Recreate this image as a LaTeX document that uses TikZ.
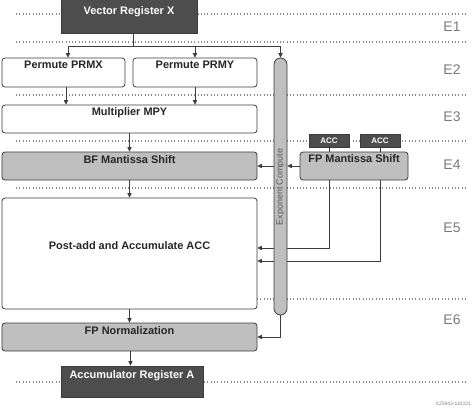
\documentclass[tikz,border=0pt]{standalone}
\usepackage{fontspec}
\setmainfont{Liberation Sans}
\usetikzlibrary{arrows.meta,calc}
\definecolor{linec}{HTML}{3C3C3C}
\definecolor{darkf}{HTML}{4D4D4D}
\definecolor{grayf}{HTML}{BFBFBF}
\definecolor{dotc}{HTML}{8A8A8A}
\definecolor{elab}{HTML}{7A7A7A}
\begin{document}
\begin{tikzpicture}[x=1bp,y=-1bp,
  box/.style={draw=linec, rounded corners=3bp, line width=0.8bp, fill=white, inner sep=0pt},
  graybox/.style={box, fill=grayf},
  darkbox/.style={draw=linec, line width=0.8bp, fill=darkf, inner sep=0pt},
  lbl/.style={font=\fontsize{11}{13}\selectfont\bfseries, text=black!85, inner sep=0pt},
  dlbl/.style={font=\fontsize{11}{13}\selectfont\bfseries, text=white, inner sep=0pt},
  elbl/.style={font=\fontsize{14}{16}\selectfont, text=elab, inner sep=0pt},
  dotline/.style={draw=dotc, line width=1.1bp, dash pattern=on 0.9bp off 2.4bp},
  conn/.style={draw=linec, line width=0.8bp},
  arr/.style={conn, -{Triangle[length=4.5bp,width=4.2bp]}}
]
\useasboundingbox (0,0) rectangle (474,411);
% stage separators
\foreach \yy in {14,42,95,141,188,299,382}
  \draw[dotline] (16,\yy) -- (467,\yy);
% stage labels
\node[elbl] (e1) at (452,27) {E1};
\node[elbl] (e2) at (452,70) {E2};
\node[elbl] (e3) at (452,117) {E3};
\node[elbl] (e4) at (452,165) {E4};
\node[elbl] (e5) at (452,228) {E5};
\node[elbl] (e6) at (452,320) {E6};
% boxes
\node[darkbox, minimum width=136bp, minimum height=36bp] (vrx) at (129,15) {};
\node[dlbl] (vrxt) at (129,12) {Vector Register X};
\node[box, minimum width=123bp, minimum height=29bp] (prmx) at (63.5,72.5) {};
\node[lbl] (prmxt) at (63.5,65) {Permute PRMX};
\node[box, minimum width=124bp, minimum height=29bp] (prmy) at (195,72.5) {};
\node[lbl] (prmyt) at (195,65) {Permute PRMY};
\node[box, minimum width=255bp, minimum height=28bp] (mpy) at (129.5,119) {};
\node[lbl] (mpyt) at (129.5,113) {Multiplier MPY};
\node[graybox, minimum width=255bp, minimum height=28bp] (bf) at (129.5,166) {};
\node[lbl] (bft) at (129.5,160) {BF Mantissa Shift};
\node[graybox, minimum width=108bp, minimum height=28bp] (fpm) at (354,166) {};
\node[lbl] (fpmt) at (354,159) {FP Mantissa Shift};
\node[darkbox, minimum width=40bp, minimum height=13bp] (acc1) at (329,140.5) {};
\node[font=\fontsize{8}{9}\selectfont\bfseries, text=white, inner sep=0pt] (acc1t) at (329,140.5) {ACC};
\node[darkbox, minimum width=40bp, minimum height=13bp] (acc2) at (380,140.5) {};
\node[font=\fontsize{8}{9}\selectfont\bfseries, text=white, inner sep=0pt] (acc2t) at (380,140.5) {ACC};
\node[box, minimum width=255bp, minimum height=111bp] (post) at (129.5,253.5) {};
\node[lbl] (postt) at (129.5,246) {Post-add and Accumulate ACC};
\node[graybox, minimum width=255bp, minimum height=28bp] (fpn) at (129.5,337) {};
\node[lbl] (fpnt) at (129.5,331) {FP Normalization};
\node[darkbox, minimum width=142bp, minimum height=31bp] (acca) at (132,381.5) {};
\node[dlbl] (accat) at (132,376) {Accumulator Register A};
% connectors passing behind the exponent bar
\draw[arr] (fpm.south -| acc1) |- ($(post.east)+(0,-5.5)$);
\draw[arr] (fpm.south -| acc2) |- ($(post.east)+(0,7.5)$);
% exponent compute bar
\node[draw=linec, line width=0.8bp, fill=grayf, rounded corners=6.5bp, minimum width=13bp, minimum height=257bp, inner sep=0pt] (bar) at (280.5,186.5) {};
\node[rotate=90, font=\fontsize{9}{10}\selectfont, text=black!65, inner sep=0pt] (bart) at (280.5,187) {Exponent Compute};
% connectors
\coordinate (j) at (133,46);
\draw[conn] (j |- vrx.south) -- (j);
\draw[arr] (j) -| ($(prmx.north)+(4.5,0)$);
\draw[arr] (j) -| (prmy.north);
\draw[arr] (j) -| (bar.north);
\draw[arr] ($(prmx.south)+(2.5,0)$) -- ($(prmx.south |- mpy.north)+(2.5,0)$);
\draw[arr] (prmy.south) -- (prmy.south |- mpy.north);
\draw[arr] (mpy.south) -- (bf.north);
\draw[arr] (bf.south) -- (post.north);
\draw[arr] (bar.west |- bf.east) -- (bf.east);
\draw[arr] (fpm.west) -- (fpm.west -| bar.east);
\draw[conn] (acc1.south) -- (acc1.south |- fpm.north);
\draw[conn] (acc2.south) -- (acc2.south |- fpm.north);
\draw[arr] (bar.south) |- (fpn.east);
\draw[arr] (post.south) -- (fpn.north);
\draw[arr] ($(fpn.south)+(1,0)$) -- ($(fpn.south |- acca.north)+(1,0)$);
\node[anchor=east, font=\fontsize{5}{6}\selectfont, text=black!50, inner sep=0pt] (fig) at (471,404) {X25943-110321};
\end{tikzpicture}
\end{document}
